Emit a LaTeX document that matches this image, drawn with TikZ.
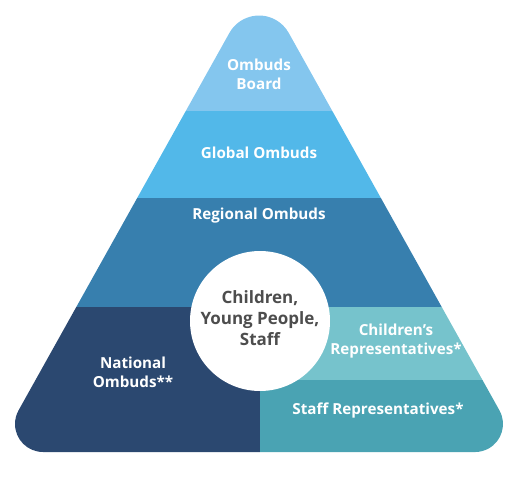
\documentclass[tikz,border=0pt]{standalone}
\usepackage{fontspec}
\setmainfont{Open Sans}
\definecolor{boardblue}{HTML}{84C6EE}
\definecolor{globalblue}{HTML}{52B8E9}
\definecolor{regionblue}{HTML}{377FAE}
\definecolor{nationblue}{HTML}{2B4870}
\definecolor{childteal}{HTML}{76C3CC}
\definecolor{staffteal}{HTML}{4AA3B3}
\definecolor{coretext}{HTML}{4D4D4D}

\begin{document}
\begin{tikzpicture}[x=1pt, y=-1pt,
  lbl/.style={text=white, font=\bfseries\fontsize{15.2}{19}\selectfont, align=center},
  corelbl/.style={text=coretext, font=\bfseries\fontsize{17}{21}\selectfont, align=center}]
\useasboundingbox (0,0) rectangle (527,481);
%% 둥근 삼각형 안쪽만 칠함
\begin{scope}
\clip (43,452) arc[start angle=90, end angle=208.9, radius=28]
  -- (229.3,33.1) arc[start angle=208.9, end angle=331.1, radius=34]
  -- (499.5,410.5) arc[start angle=-28.9, end angle=90, radius=28] -- cycle;
\fill[boardblue] (0,0) rectangle (527,111);
\fill[globalblue] (0,111) rectangle (527,198);
\fill[regionblue] (0,198) rectangle (527,307);
\fill[nationblue] (0,307) rectangle (260,460);
\fill[childteal] (260,307) rectangle (527,380);
\fill[staffteal] (260,380) rectangle (527,460);
\end{scope}
%% 가운데 원
\fill[white] (260,321) circle (70);
\node[lbl] (board) at (259,74) {Ombuds\\Board};
\node[lbl] (global) at (259,153) {Global Ombuds};
\node[lbl] (regional) at (259,216) {Regional Ombuds};
\node[lbl] (national) at (133,372) {National\\Ombuds**};
\node[lbl] (childrep) at (396,341) {Children’s\\Representatives*};
\node[lbl] (staffrep) at (378,411) {Staff Representatives*};
\node[corelbl] (core) at (260,318) {Children,\\Young People,\\Staff};
\end{tikzpicture}
\end{document}
